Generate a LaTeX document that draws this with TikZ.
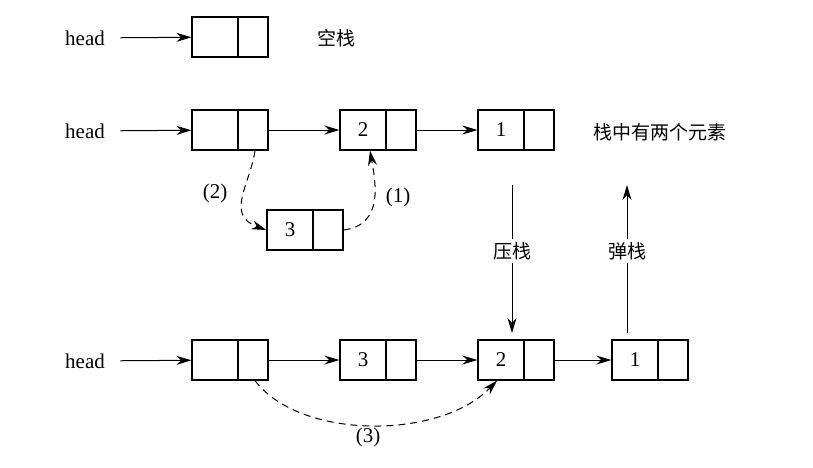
\documentclass[tikz,border=0pt]{standalone}
\usepackage{fontspec}
\setmainfont{Liberation Serif}
\newfontfamily\cjk{Noto Sans CJK SC}
\usetikzlibrary{arrows.meta}
\tikzset{
  cell/.style = {draw, minimum width=76pt, minimum height=40pt, inner sep=0pt, line width=1.2pt},
  link/.style = {-{Stealth[length=15pt,width=9pt]}, line width=1pt},
  dlink/.style = {link, dashed, dash pattern=on 7pt off 5pt},
  lbl/.style = {font=\fontsize{21}{24}\selectfont},
  clbl/.style = {font=\fontsize{19}{22}\selectfont\cjk}
}
% box with a data field and a pointer field
\newcommand\cell[4]{%
  \node[cell] (#1) at (#2,#3) {};
  \draw[line width=1.2pt] ([xshift=8pt]#1.north) -- ([xshift=8pt]#1.south);
  \node[lbl] at ([xshift=-15pt]#1.center) {#4};}
\begin{document}
\begin{tikzpicture}[x=1pt,y=-1pt]
  \useasboundingbox (0,0) rectangle (813,467);

  % empty stack
  \node[lbl] (h1) at (85,38) {head};
  \cell{e1}{230}{37}{}
  \draw[link, shorten <=12pt] (h1) -- (e1);
  \node[clbl] at (336,38) {空栈};

  % two elements
  \node[lbl] (h2) at (85,131) {head};
  \cell{a1}{230}{130}{}
  \cell{a2}{378}{130}{2}
  \cell{a3}{516}{130}{1}
  \draw[link, shorten <=12pt] (h2) -- (a1);
  \draw[link] (a1) -- (a2);
  \draw[link] (a2) -- (a3);
  \node[clbl] at (660,132) {栈中有两个元素};

  % new element
  \cell{n3}{305}{230}{3}
  \draw[dlink] ([xshift=25pt]a1.south) .. controls (250,185) and (225,215) .. (n3.west);
  \draw[dlink] (n3.east) .. controls (385,225) and (375,180) .. ([xshift=-8pt]a2.south);
  \node[lbl] (l2) at (215,193) {(2)};
  \node[lbl] (l1) at (398,197) {(1)};

  % push / pop
  \coordinate (pu) at (512,185);
  \coordinate (pd) at (512,333);
  \coordinate (po) at (627,333);
  \coordinate (pt) at (627,185);
  \draw[link] (pu) -- (pd);
  \draw[link] (po) -- (pt);
  \node[clbl, fill=white] at (512,251) {压栈};
  \node[clbl, fill=white] at (627,251) {弹栈};

  % after push
  \node[lbl] (h3) at (85,361) {head};
  \cell{b1}{230}{360}{}
  \cell{b2}{378}{360}{3}
  \cell{b3}{516}{360}{2}
  \cell{b4}{650}{360}{1}
  \draw[link, shorten <=12pt] (h3) -- (b1);
  \draw[link] (b1) -- (b2);
  \draw[link] (b2) -- (b3);
  \draw[link] (b3) -- (b4);
  \draw[dlink] ([xshift=25pt]b1.south) .. controls (300,440) and (440,440) .. ([xshift=-19pt]b3.south);
  \node[lbl] (l3) at (368,437) {(3)};
\end{tikzpicture}
\end{document}
